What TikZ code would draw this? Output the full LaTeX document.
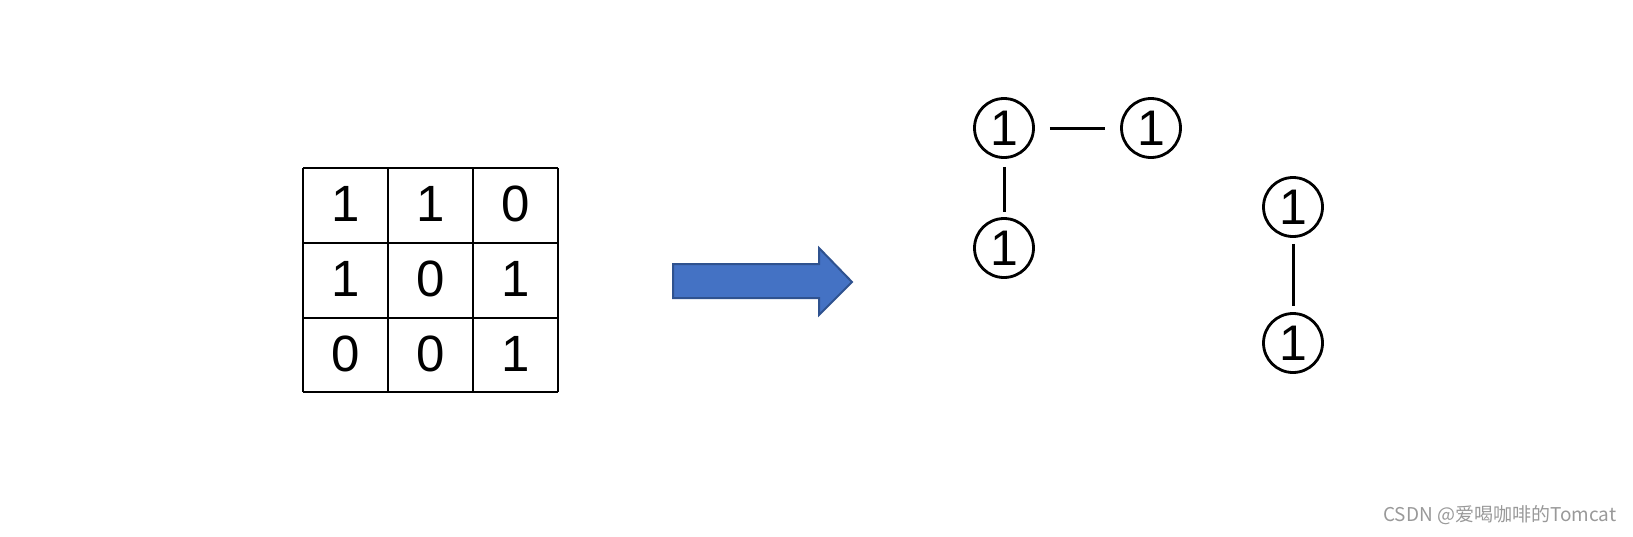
\documentclass[tikz,border=0pt]{standalone}
\usepackage{fontspec}
\setmainfont{Liberation Sans}
\newfontfamily\cjkfont{Noto Sans CJK SC}
\usetikzlibrary{positioning}
\tikzset{every picture/.style={line width=2.4pt}}
\tikzset{
cellnum/.style={inner sep=0pt,font=\fontsize{51}{51}\selectfont},
bit/.style={draw,circle,minimum size=59,inner sep=0pt,line width=2.8pt,font=\fontsize{50}{50}\selectfont},
link/.style={line width=3pt}}

\begin{document}
\begin{tikzpicture}[x=1pt,y=1pt,yscale=-1,xscale=1]
\useasboundingbox (0,0) rectangle (1633,536);

%Grid lines
\foreach \x in {303,388,473,558} \draw (\x,168) -- (\x,392);
\foreach \y in {168,243,318,392} \draw (303,\y) -- (558,\y);
%Grid values
\foreach \v/\c/\r in {1/0/0,1/1/0,0/2/0,1/0/1,0/1/1,1/2/1,0/0/2,0/1/2,1/2/2}
  \node[cellnum] (c\r\c) at (345.5+85*\c,204+75*\r) {\v};

%Block arrow
\draw [fill={rgb, 255:red, 68; green, 114; blue, 196}, draw={rgb, 255:red, 47; green, 82; blue, 143}, line width=2pt]
  (673,264) -- (819,264) -- (819,248) -- (852,282) -- (819,315) -- (819,298) -- (673,298) -- cycle ;

%Islands
\node[bit] (a) at (1004,128) {1};
\node[bit] (b) at (1151,128) {1};
\node[bit] (c) at (1004,248) {1};
\node[bit] (d) at (1293,207) {1};
\node[bit] (e) at (1293,343) {1};

\draw[link,shorten <=15pt,shorten >=15pt] (a) -- (b);
\draw[link,shorten <=8pt,shorten >=5pt] (a) -- (c);
\draw[link,shorten <=6pt,shorten >=6pt] (d) -- (e);

% Text Node
\node[anchor=west, inner sep=0pt, text=black!40, font=\cjkfont\fontsize{19}{19}\selectfont] (mark) at (1382,515) {CSDN @爱喝咖啡的Tomcat};

\end{tikzpicture}
\end{document}
